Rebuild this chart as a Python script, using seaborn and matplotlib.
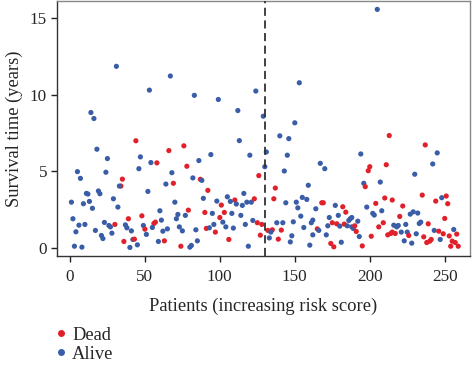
import matplotlib
matplotlib.use("Agg")
import matplotlib.pyplot as plt
from matplotlib.lines import Line2D
import seaborn as sns
import pandas as pd

# ---- data ----
# patient rank (increasing risk score)
patient = [
    31, 14, 16, 44, 18, 25, 47, 5, 24, 46,
    7, 35, 34, 33, 11, 12, 19, 20, 1, 9,
    13, 15, 29, 32, 2, 6, 10, 4, 17, 23,
    26, 27, 30, 28, 21, 22, 37, 38, 39, 41,
    36, 42, 43, 45, 40, 3, 8,
    67, 53, 83, 99, 66, 76, 54, 58, 86, 94,
    78, 68, 82, 87, 88, 64, 69, 92, 52, 89,
    70, 98, 101, 79, 60, 48, 90, 95, 100, 72,
    71, 77, 49, 50, 51, 56, 57, 55, 61, 62,
    65, 59, 63, 73, 75, 74, 80, 81, 85, 84,
    91, 93, 96, 97, 102,
    153, 124, 112, 129, 150, 113, 140, 146, 131, 120,
    145, 130, 143, 126, 137, 136, 116, 105, 110, 107,
    111, 115, 118, 121, 123, 103, 108, 114, 104, 109,
    117, 122, 125, 128, 132, 135, 134, 138, 142, 141,
    127, 133, 139, 148, 147, 106, 119, 144, 151, 155,
    152, 154, 149, 156,
    194, 167, 170, 200, 199, 211, 196, 197, 207, 159,
    158, 210, 204, 198, 208, 168, 169, 164, 177, 182,
    184, 179, 173, 202, 203, 162, 161, 175, 178, 172,
    180, 183, 186, 187, 188, 185, 188, 189, 190, 192,
    191, 193, 165, 166, 162, 171, 174, 176, 160, 181,
    195, 201, 206, 209, 205,
    213, 237, 245, 242, 230, 215, 235, 244, 248, 251,
    252, 222, 220, 227, 229, 232, 250, 239, 233, 234,
    216, 218, 219, 224, 215, 212, 214, 217, 221, 225,
    226, 231, 236, 243, 246, 249, 256, 258, 253, 247,
    241, 240, 238, 223, 228, 255, 257, 254, 259,
]
# survival time in years
survival = [
    11.85, 8.84, 8.45, 7.0, 6.45, 5.84, 5.95, 4.99, 4.95, 5.18,
    4.55, 4.5, 4.05, 4.05, 3.57, 3.53, 3.73, 3.55, 3.0, 2.9,
    3.05, 2.6, 3.22, 2.68, 1.92, 1.5, 1.55, 1.07, 1.16, 1.68,
    1.48, 1.39, 1.55, 0.98, 0.83, 0.63, 1.52, 1.33, 1.92, 1.13,
    0.44, 0.57, 0.59, 0.22, 0.05, 0.13, 0.07,
    11.22, 10.3, 9.96, 9.69, 6.36, 6.67, 5.58, 5.56, 5.71, 6.1,
    5.34, 4.92, 4.58, 4.49, 4.42, 4.18, 4.23, 3.77, 3.7, 3.25,
    3.0, 3.07, 2.81, 2.48, 2.44, 2.11, 2.33, 2.27, 2.0, 2.2,
    1.92, 2.14, 1.48, 1.24, 0.9, 1.61, 1.7, 1.35, 1.83, 1.11,
    1.26, 0.44, 0.48, 1.39, 1.13, 0.13, 0.07, 0.18, 0.48, 1.2,
    1.29, 1.33, 1.55, 1.05, 1.7,
    10.78, 10.24, 8.97, 8.6, 8.17, 7.01, 7.32, 7.14, 6.27, 6.06,
    6.06, 5.31, 5.03, 4.73, 3.92, 3.22, 3.57, 3.35, 3.14, 3.05,
    2.88, 2.79, 3.0, 3.0, 3.22, 2.33, 2.27, 2.14, 1.39, 1.31,
    1.55, 1.81, 1.66, 1.55, 1.16, 1.2, 1.05, 1.66, 1.66, 1.18,
    0.85, 0.67, 0.59, 0.81, 0.41, 0.57, 0.13, 2.96, 3.0, 3.31,
    2.63, 2.09, 1.72, 1.35,
    6.14, 5.53, 5.18, 5.31, 5.05, 5.44, 4.23, 4.01, 4.31, 4.1,
    3.18, 3.27, 2.92, 2.68, 2.44, 2.96, 2.96, 2.57, 2.79, 2.7,
    2.35, 2.14, 2.0, 2.27, 2.16, 1.83, 1.66, 1.66, 1.59, 1.46,
    1.44, 1.57, 1.81, 1.92, 2.0, 1.46, 1.39, 1.29, 1.46, 1.76,
    1.09, 0.76, 1.26, 1.16, 0.87, 0.87, 0.31, 0.09, 0.2, 0.39,
    0.15, 0.78, 1.39, 1.66, 15.56,
    7.34, 6.73, 6.21, 5.49, 4.82, 3.14, 3.46, 3.07, 3.29, 3.4,
    2.9, 2.75, 2.07, 2.22, 2.37, 2.29, 1.94, 1.59, 1.61, 1.7,
    1.5, 1.39, 1.48, 1.55, 1.05, 0.87, 0.96, 0.96, 1.05, 1.05,
    0.83, 0.94, 0.74, 1.16, 1.11, 0.94, 1.22, 0.92, 0.8, 0.57,
    0.57, 0.46, 0.37, 0.48, 0.33, 0.46, 0.37, 0.13, 0.13,
]
# vital status codes (D = Dead, A = Alive), same order as above
status_codes = (
    "AAADAAAAAA" "ADDAAAAAAA" "AAAAAAAAAA" "AADAAAAADA" "DADAAAA"
    "AAAADDADAA" "DAADAADDAA" "AADDADDADA" "AAADADDAAA" "AADAADAAAA" "DAADA"
    "AAAAAAAAAA" "AAADDDAADA" "AAAADDAAAA" "AADDDDAAAD" "DADAADAAAA" "AAAA"
    "AAADDDADAA" "ADDAADDAAD" "DAAAAAADDA" "ADAAAAAADA" "DADAAADDAA" "DDDDA"
    "DDAAADDDAD" "DDDAAADDAA" "AAAADDDDAA" "DADADDADDA" "DDDAADDDD"
)
status_names = {"D": "Dead", "A": "Alive"}
status = [status_names[c] for c in status_codes]

cutoff = 130          # median risk-score split
x_ticks = [0, 50, 100, 150, 200, 250]
y_ticks = [0, 5, 10, 15]

df = pd.DataFrame({"patient": patient, "survival": survival, "status": status})

# ---- style ----
sns.set_style("ticks")
plt.rcParams["font.family"] = ["Liberation Serif", "DejaVu Serif"]

red = "#E0202A"
blue = "#3A5DA8"
palette = {"Dead": red, "Alive": blue}

fig = plt.figure(figsize=(4.74, 3.66), dpi=100)
ax = fig.add_axes([0.120, 0.300, 0.872, 0.697])

sns.scatterplot(data=df, x="patient", y="survival", hue="status",
                hue_order=["Dead", "Alive"], palette=palette,
                s=14, linewidth=0, ax=ax, legend=False, zorder=3)

ax.axvline(cutoff, color="#333333", lw=1.3, ls=(0, (4.5, 2.5)), zorder=4)

ax.set_xlim(-8.7, 267)
ax.set_ylim(-0.52, 16.1)
ax.set_xticks(x_ticks)
ax.set_yticks(y_ticks)
ax.tick_params(axis="both", direction="out", length=4, width=1,
               color="#222222", labelsize=12.3)
ax.tick_params(axis="x", pad=5)
ax.tick_params(axis="y", pad=3)
for side in ["left", "bottom", "top", "right"]:
    ax.spines[side].set_visible(True)
    ax.spines[side].set_linewidth(1.0)
    ax.spines[side].set_color("#333333")
for side in ["top", "right"]:
    ax.spines[side].set_color("#888888")

ax.set_xlabel("Patients (increasing risk score)", fontsize=13.3, labelpad=9)
ax.set_ylabel("Survival time (years)", fontsize=13.3, labelpad=5)

handles = [
    Line2D([], [], marker="o", ls="", color=red, markersize=4, label="Dead"),
    Line2D([], [], marker="o", ls="", color=blue, markersize=4, label="Alive"),
]
fig.legend(handles=handles, loc="upper left", bbox_to_anchor=(0.09, 0.132),
           frameon=False, fontsize=13.3, handletextpad=0.1, handlelength=1.0,
           labelspacing=0.1, borderpad=0.0)

fig.savefig("out.png", dpi=100)
